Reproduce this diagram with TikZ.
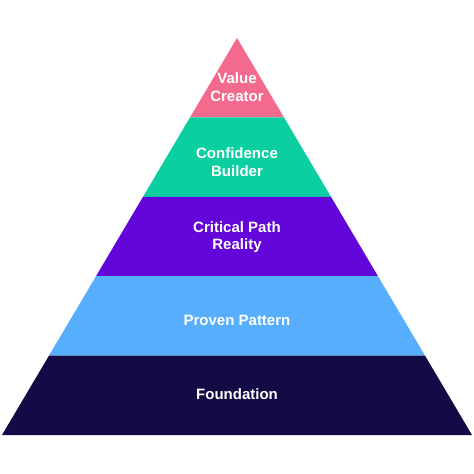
\documentclass[tikz,border=0pt]{standalone}
\usepackage{fontspec}
\setmainfont{Liberation Sans}
\usepackage{tikz}
\usetikzlibrary{calc}
\definecolor{tierpink}{HTML}{F26A8D}
\definecolor{tierteal}{HTML}{0BCFA0}
\definecolor{tierpurple}{HTML}{6306D9}
\definecolor{tierblue}{HTML}{56AEFC}
\definecolor{tiernavy}{HTML}{140B46}

\begin{document}
\begin{tikzpicture}[x=1pt,y=-1pt,
  tier/.style={draw=none},
  tierlabel/.style={text=white,font=\fontsize{15}{17.5}\selectfont\bfseries,align=center,inner sep=0pt}]
  \useasboundingbox (0,0) rectangle (474,474);
  % apex and base corners
  \coordinate (apex) at (237,38);
  \coordinate (bl) at (2,435);
  \coordinate (br) at (472,435);
  % band edges
  \coordinate (l1) at ($(apex)!0.2!(bl)$);  \coordinate (r1) at ($(apex)!0.2!(br)$);
  \coordinate (l2) at ($(apex)!0.4!(bl)$);  \coordinate (r2) at ($(apex)!0.4!(br)$);
  \coordinate (l3) at ($(apex)!0.6!(bl)$);  \coordinate (r3) at ($(apex)!0.6!(br)$);
  \coordinate (l4) at ($(apex)!0.8!(bl)$);  \coordinate (r4) at ($(apex)!0.8!(br)$);

  \fill[tier,tierpink] (apex) -- (r1) -- (l1) -- cycle;
  \fill[tier,tierteal] (l1) -- (r1) -- (r2) -- (l2) -- cycle;
  \fill[tier,tierpurple] (l2) -- (r2) -- (r3) -- (l3) -- cycle;
  \fill[tier,tierblue] (l3) -- (r3) -- (r4) -- (l4) -- cycle;
  \fill[tier,tiernavy] (l4) -- (r4) -- (br) -- (bl) -- cycle;

  \node[tierlabel] (creator) at (237,87) {Value\\Creator};
  \node[tierlabel] (builder) at (237,162) {Confidence\\Builder};
  \node[tierlabel] (reality) at (237,237) {Critical Path\\Reality};
  \node[tierlabel] (pattern) at (237,320) {Proven Pattern};
  \node[tierlabel] (foundation) at (237,394) {Foundation};
\end{tikzpicture}
\end{document}
